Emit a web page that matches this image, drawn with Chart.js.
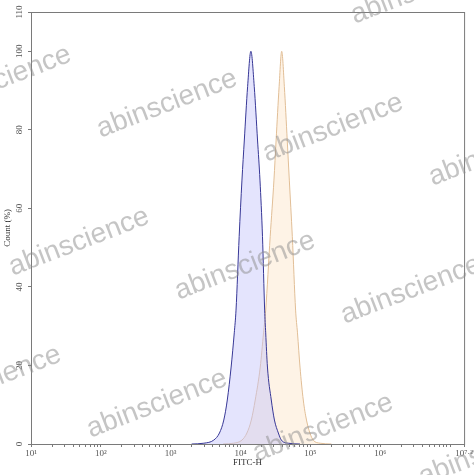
<!DOCTYPE html>
<html>
<head>
<meta charset="utf-8">
<script src="https://cdn.jsdelivr.net/npm/chart.js@4"></script>
<style>
  html, body { margin: 0; padding: 0; background: #fff; }
  #wrap { width: 474px; height: 475px; }
</style>
</head>
<body>
<div id="wrap"><canvas id="histChart" width="474" height="475"></canvas></div>
<script>
// log10(FITC-H) positions and count (%)
const blueLog   = [3.30, 3.475, 3.617, 3.698, 3.760, 3.810, 3.865, 3.910, 3.935, 3.980, 4.020, 4.054, 4.101, 4.148, 4.196, 4.243, 4.278, 4.314, 4.345, 4.360, 4.385, 4.440, 4.485, 4.541, 4.584, 4.683, 4.85];
const blueCount = [0,    0.2,   1.0,   2.8,   6.1,   11.2,  19.6,  28.3,  34.1,  52.8,  67.2,  77.4,  91,    100,   91,    77.4,  67.2,  52.8,  34.1,  28.3,  19.6,  11.2,  6.1,   2.8,   1.0,   0.2,   0];

const orangeLog   = [3.75, 3.902, 4.020, 4.091, 4.154, 4.210, 4.282, 4.329, 4.360, 4.424, 4.478, 4.509, 4.552, 4.589, 4.627, 4.668, 4.698, 4.741, 4.788, 4.815, 4.851, 4.898, 4.944, 4.993, 5.040, 5.139, 5.30];
const orangeCount = [0,    0.2,   1.0,   2.8,   6.1,   11.2,  19.6,  28.3,  34.1,  52.8,  67.2,  77.4,  91,    100,   91,    77.4,  67.2,  52.8,  34.1,  28.3,  19.6,  11.2,  6.1,   2.8,   1.0,   0.2,   0];

const xMajorTicks = [1, 2, 3, 4, 5, 6, 7.2];
const xTickLabels = ['10\u00b9', '10\u00b2', '10\u00b3', '10\u2074', '10\u2075', '10\u2076', '10\u2077\u00b7\u00b2'];
const yTicks = [0, 20, 40, 60, 80, 100, 110];

const serif = '"Liberation Serif", "DejaVu Serif", serif';

// minor decade ticks (2..9 x 10^n)
const xMinorTicks = [];
for (let d = 1; d < 7; d++) {
  for (let k = 2; k <= 9; k++) {
    const v = d + Math.log10(k);
    if (v < 7.2) xMinorTicks.push(v);
  }
}
xMinorTicks.push(7);

// plot frame + watermark
const framePlugin = {
  id: 'frame',
  afterDraw(chart) {
    const { ctx, chartArea: a } = chart;
    ctx.save();
    ctx.strokeStyle = '#7a7a7a';
    ctx.lineWidth = 1;
    ctx.strokeRect(a.left + 0.5, a.top + 0.5, a.right - a.left, a.bottom - a.top);

    // tiled "abinscience" watermark
    ctx.font = '28px "Liberation Sans", Arial, sans-serif';
    ctx.fillStyle = 'rgba(140, 140, 140, 0.5)';
    ctx.textAlign = 'center';
    ctx.textBaseline = 'middle';
    for (let r = -2; r <= 3; r++) {
      for (let c = -3; c <= 3; c++) {
        const cx = 167 + c * 166 + r * 78;
        const cy = 104 + c * 24 + r * 162;
        if (cx < -100 || cx > 580 || cy < -60 || cy > 540) continue;
        ctx.save();
        ctx.translate(cx, cy);
        ctx.rotate(-21 * Math.PI / 180);
        ctx.fillText('abinscience', 0, 0);
        ctx.restore();
      }
    }
    ctx.restore();
  }
};

new Chart(document.getElementById('histChart').getContext('2d'), {
  type: 'line',
  data: {
    datasets: [{
      label: 'blue',
      data: blueLog.map((x, i) => ({ x: x, y: blueCount[i] })),
      borderColor: 'rgb(55, 55, 150)',
      backgroundColor: 'rgba(195, 195, 250, 0.45)',
      borderWidth: 1,
      fill: 'origin',
      pointRadius: 0,
      cubicInterpolationMode: 'monotone'
    }, {
      label: 'orange',
      data: orangeLog.map((x, i) => ({ x: x, y: orangeCount[i] })),
      borderColor: 'rgb(225, 190, 150)',
      backgroundColor: 'rgba(252, 228, 200, 0.45)',
      borderWidth: 1,
      fill: 'origin',
      pointRadius: 0,
      cubicInterpolationMode: 'monotone'
    }]
  },
  options: {
    responsive: false,
    animation: false,
    layout: { padding: { top: 12, right: 7, left: 0, bottom: 0 } },
    plugins: { legend: { display: false }, tooltip: { enabled: false } },
    scales: {
      x: {
        type: 'linear',
        min: 1,
        max: 7.2,
        afterBuildTicks: scale => {
          scale.ticks = xMajorTicks.concat(xMinorTicks).sort((a, b) => a - b).map(v => ({ value: v }));
        },
        afterFit: scale => { scale.height = 31; },
        grid: { drawOnChartArea: false, tickLength: 3, color: '#7a7a7a' },
        border: { color: '#7a7a7a' },
        ticks: {
          autoSkip: false,
          maxRotation: 0,
          padding: 1,
          color: '#555',
          font: { family: serif, size: 9 },
          callback: v => {
            const i = xMajorTicks.findIndex(t => Math.abs(t - v) < 1e-6);
            return i >= 0 ? xTickLabels[i] : '';
          }
        },
        title: {
          display: true,
          text: 'FITC-H',
          color: '#333',
          font: { family: serif, size: 9 },
          padding: { top: 0, bottom: 7 }
        }
      },
      y: {
        min: 0,
        max: 110,
        afterBuildTicks: scale => {
          scale.ticks = yTicks.map(v => ({ value: v }));
        },
        afterFit: scale => { scale.width = 31; },
        grid: { drawOnChartArea: false, tickLength: 3, color: '#7a7a7a' },
        border: { color: '#7a7a7a' },
        ticks: {
          minRotation: 90,
          maxRotation: 90,
          crossAlign: 'center',
          padding: 2,
          color: '#555',
          font: { family: serif, size: 9 }
        },
        title: {
          display: true,
          text: 'Count (%)',
          color: '#333',
          font: { family: serif, size: 9 },
          padding: { top: 2, bottom: 0 }
        }
      }
    }
  },
  plugins: [framePlugin]
});
</script>
</body>
</html>
